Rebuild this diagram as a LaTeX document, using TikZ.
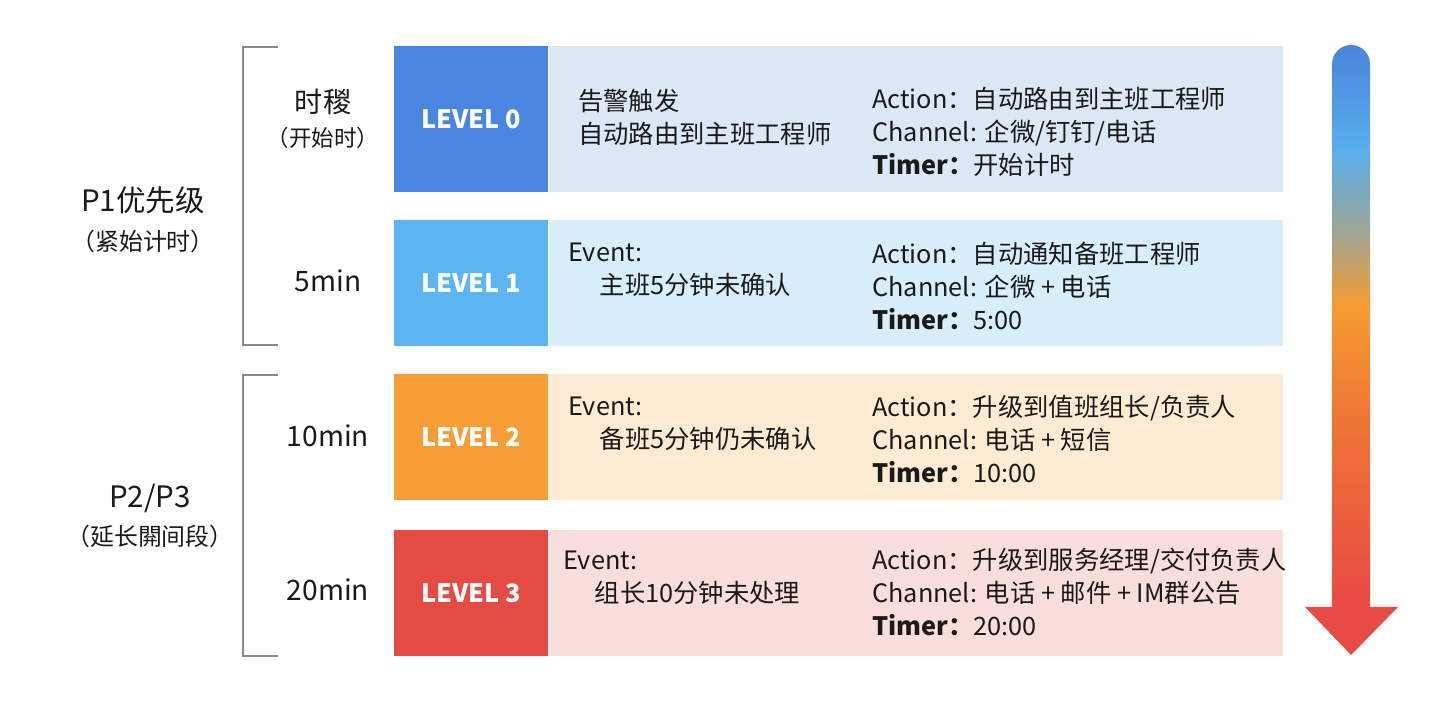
\documentclass[tikz,border=0pt]{standalone}
\usepackage{fontspec}
\setmainfont{Noto Sans CJK SC}
\usetikzlibrary{positioning}
\definecolor{lvzero}{HTML}{4A86DF}
\definecolor{lvone}{HTML}{5CB5F1}
\definecolor{lvtwo}{HTML}{F69D36}
\definecolor{lvthree}{HTML}{E44B43}
\definecolor{lvzerobg}{HTML}{DDE8F7}
\definecolor{lvonebg}{HTML}{D9EEFB}
\definecolor{lvtwobg}{HTML}{FDEBD4}
\definecolor{lvthreebg}{HTML}{F9DEDC}
\definecolor{inkc}{HTML}{1A1A1A}
\definecolor{brk}{HTML}{8A8A8A}
\definecolor{arrblue}{HTML}{4A84DA}
\definecolor{arrsky}{HTML}{58AEEE}
\definecolor{arrgray}{HTML}{9CA596}
\definecolor{arrorange}{HTML}{F59C30}
\definecolor{arrorred}{HTML}{EE7535}
\definecolor{arrred}{HTML}{E84A44}
\pgfdeclareverticalshading{escalate}{100bp}{color(0bp)=(arrred); color(29.5bp)=(arrred); color(44bp)=(arrorred); color(53.7bp)=(arrorange); color(59.8bp)=(arrgray); color(66.4bp)=(arrsky); color(75bp)=(arrblue); color(100bp)=(arrblue)}
\newcommand\bodyf{\fontsize{18}{23.5}\selectfont}
\begin{document}
\begin{tikzpicture}[x=0.025cm,y=-0.025cm,
	lvblock/.style={minimum width=3.85cm,inner sep=0pt,text=white,font=\fontsize{18}{22}\selectfont\bfseries},
	lvpanel/.style={minimum width=18.35cm,inner sep=0pt},
	paneltxt/.style={anchor=west,inner sep=0pt,align=left,text=inkc,font=\bodyf},
	timelbl/.style={inner sep=0pt,align=center,text=inkc,font=\fontsize{20}{24}\selectfont},
	grouplbl/.style={inner sep=0pt,align=center,text=inkc,font=\fontsize{21}{27.5}\selectfont},
	bracket/.style={draw=brk,line width=0.9pt}]
			\fill[white](0,0)rectangle(1456,720);
			\useasboundingbox(0,0)rectangle(1456,720);
			\node[lvblock,fill=lvzero,minimum height=3.65cm](lv0)at(471,119){LEVEL 0};
			\node[lvpanel,fill=lvzerobg,minimum height=3.65cm,right=0pt of lv0](pn0){};
			\node[lvblock,fill=lvone,minimum height=3.15cm](lv1)at(471,283){LEVEL 1};
			\node[lvpanel,fill=lvonebg,minimum height=3.15cm,right=0pt of lv1](pn1){};
			\node[lvblock,fill=lvtwo,minimum height=3.15cm](lv2)at(471,437){LEVEL 2};
			\node[lvpanel,fill=lvtwobg,minimum height=3.15cm,right=0pt of lv2](pn2){};
			\node[lvblock,fill=lvthree,minimum height=3.15cm](lv3)at(471,593){LEVEL 3};
			\node[lvpanel,fill=lvthreebg,minimum height=3.15cm,right=0pt of lv3](pn3){};
			\node[paneltxt](ev0)at(578,117){告警触发\\自动路由到主班工程师};
			\node[paneltxt](ev1)at(568,270){Event:\\\hspace*{1.25em}主班5分钟未确认};
			\node[paneltxt](ev2)at(568,424){Event:\\\hspace*{1.25em}备班5分钟仍未确认};
			\node[paneltxt](ev3)at(563,578){Event:\\\hspace*{1.25em}组长10分钟未处理};
			\node[paneltxt](ac0)at(872,132){Action：自动路由到主班工程师\\Channel: 企微/钉钉/电话\\\textbf{Timer：}开始计时};
			\node[paneltxt](ac1)at(872,286){Action：自动通知备班工程师\\Channel: 企微 + 电话\\\textbf{Timer：}5:00};
			\node[paneltxt](ac2)at(872,439){Action：升级到值班组长/负责人\\Channel: 电话 + 短信\\\textbf{Timer：}10:00};
			\node[paneltxt](ac3)at(872,592){Action：升级到服务经理/交付负责人\\Channel: 电话 + 邮件 + IM群公告\\\textbf{Timer：}20:00};
			\node[timelbl](t0)at(323,119){时稯\\{\fontsize{16}{24}\selectfont （开始时）}};
			\node[timelbl](t1)at(328,281){5min};
			\node[timelbl](t2)at(328,436){10min};
			\node[timelbl](t3)at(328,590){20min};
			\node[grouplbl](g1)at(143,220){P1优先级\\{\fontsize{17}{27.5}\selectfont （紧始计时）}};
			\node[grouplbl](g2)at(150,516){P2/P3\\{\fontsize{17}{27.5}\selectfont （延长閞间段）}};
			\draw[bracket](278,47)--(243,47)--(243,345)--(278,345);
			\draw[bracket](278,375)--(243,375)--(243,656)--(278,656);
			\shade[shading=escalate](1332,607)--(1332,64)arc[start angle=180,end angle=0,radius=0.475cm]--(1370,607)--(1398,607)--(1351,655)--(1305,607)--cycle;
			\end{tikzpicture}
\end{document}
